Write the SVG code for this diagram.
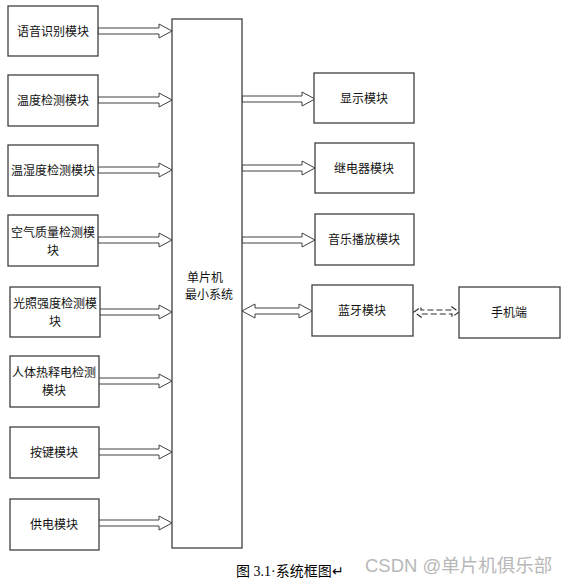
<svg xmlns="http://www.w3.org/2000/svg" width="570" height="584" viewBox="0 0 570 584">
<style>
.box{fill:#fff;stroke:#404040;stroke-width:1.3}
.t{font-family:"Noto Sans CJK SC",sans-serif;font-size:12px;fill:#111;text-anchor:middle}
.arr{fill:#fff;stroke:#404040;stroke-width:1}
</style>
<defs>
<path id="aL" d="M0,-3 H61 V-7 L74,0 L61,7 V3 H0 Z"/>
<path id="aR" d="M0,-3 H60 V-7 L73,0 L60,7 V3 H0 Z"/>
</defs>
<rect width="570" height="584" fill="#fff"/>
<g id="connectors">
<use href="#aL" class="arr" x="98" y="31"/>
<use href="#aL" class="arr" x="98" y="100"/>
<use href="#aL" class="arr" x="98" y="170"/>
<use href="#aL" class="arr" x="98" y="240"/>
<use href="#aL" class="arr" x="98" y="312"/>
<use href="#aL" class="arr" x="98" y="381"/>
<use href="#aL" class="arr" x="98" y="452"/>
<use href="#aL" class="arr" x="98" y="523"/>
<use href="#aR" class="arr" x="242" y="99"/>
<use href="#aR" class="arr" x="242" y="168"/>
<use href="#aR" class="arr" x="242" y="240"/>
<path class="arr" d="M242,311 L255,304 V308 H299 V304 L312,311 L299,318 V314 H255 V318 Z"/>
<path d="M414,312 L421,307 V310 H452 V307 L459,312 L452,317 V314 H421 V317 Z" fill="#fff" stroke="#303030" stroke-width="1.2" stroke-dasharray="6,3"/>
</g>
<g id="center"><rect class="box" x="172" y="19" width="70" height="529"/><text class="t" x="205" y="282">单片机</text><text class="t" x="209" y="299">最小系统</text></g>
<g id="n1"><rect class="box" x="8" y="6" width="90" height="50"/><text class="t" x="53" y="36">语音识别模块</text></g>
<g id="n2"><rect class="box" x="8" y="75" width="90" height="51"/><text class="t" x="53" y="105">温度检测模块</text></g>
<g id="n3"><rect class="box" x="8" y="145" width="90" height="51"/><text class="t" x="53" y="175">温湿度检测模块</text></g>
<g id="n4"><rect class="box" x="8" y="215" width="90" height="51"/><text class="t" x="53" y="237">空气质量检测模</text><text class="t" x="53" y="255">块</text></g>
<g id="n5"><rect class="box" x="10" y="287" width="90" height="50"/><text class="t" x="55" y="308">光照强度检测模</text><text class="t" x="55" y="326">块</text></g>
<g id="n6"><rect class="box" x="10" y="356" width="89" height="51"/><text class="t" x="54" y="377">人体热释电检测</text><text class="t" x="54" y="395">模块</text></g>
<g id="n7"><rect class="box" x="10" y="427" width="89" height="51"/><text class="t" x="54" y="457">按键模块</text></g>
<g id="n8"><rect class="box" x="10" y="499" width="89" height="51"/><text class="t" x="54" y="529">供电模块</text></g>
<g id="n9"><rect class="box" x="314" y="73" width="100" height="50"/><text class="t" x="364" y="103">显示模块</text></g>
<g id="n10"><rect class="box" x="315" y="143" width="99" height="50"/><text class="t" x="364" y="173">继电器模块</text></g>
<g id="n11"><rect class="box" x="315" y="214" width="99" height="51"/><text class="t" x="364" y="244">音乐播放模块</text></g>
<g id="n12"><rect class="box" x="312" y="285" width="101" height="51"/><text class="t" x="362" y="315">蓝牙模块</text></g>
<g id="n13"><rect class="box" x="459" y="287" width="101" height="51"/><text class="t" x="509" y="317">手机端</text></g>
<text x="236" y="576" font-family="'Liberation Serif','Noto Sans CJK SC',serif" font-size="14" fill="#000">图 3.1·系统框图↵</text>
<text x="365" y="572" font-family="'Liberation Sans','Noto Sans CJK SC',sans-serif" font-size="18.5" fill="#b8b8b8">CSDN @单片机俱乐部</text>
</svg>
